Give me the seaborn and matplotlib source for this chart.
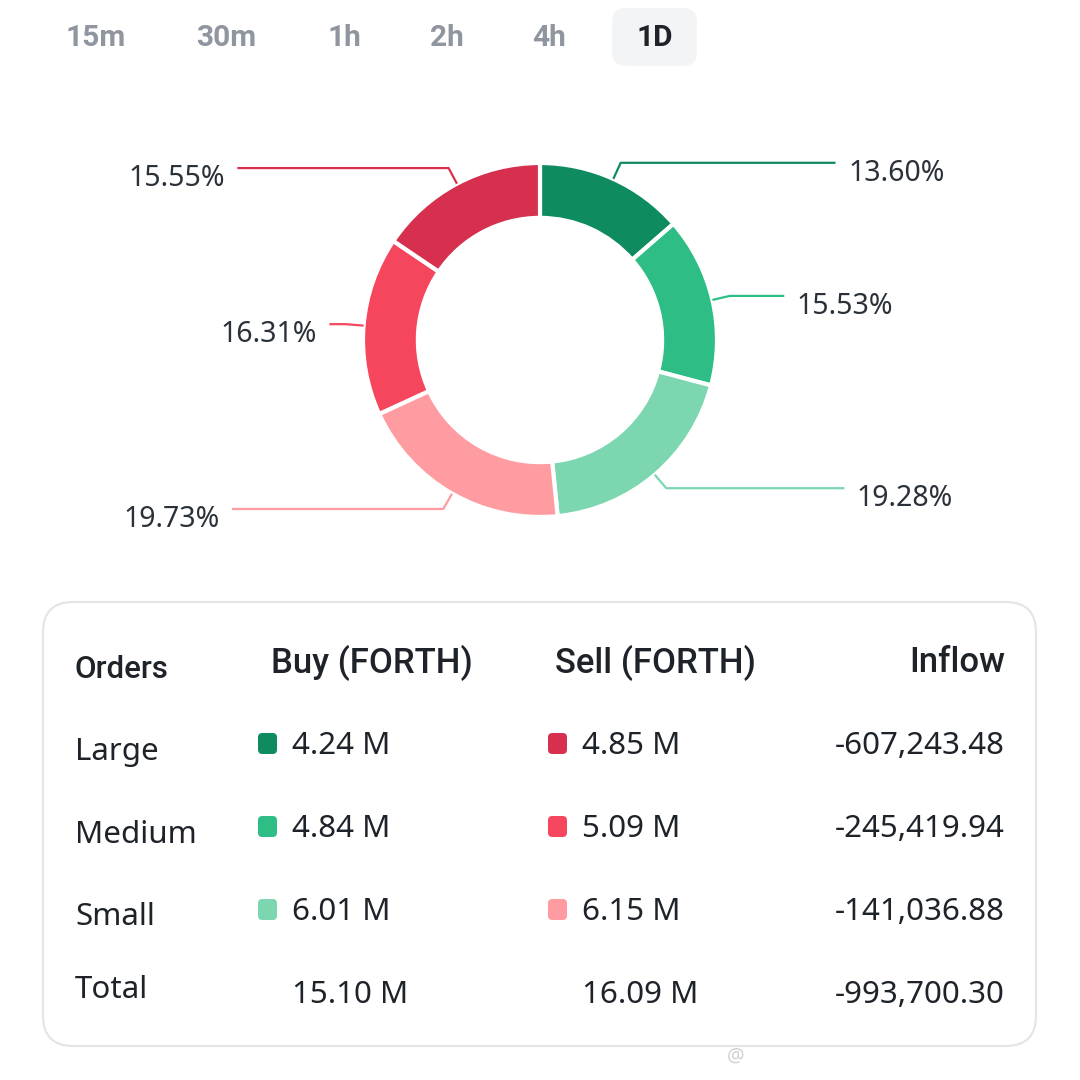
import numpy as np
import matplotlib.pyplot as plt
import seaborn as sns
from matplotlib.patches import FancyBboxPatch

# ---- data ----
timeframes = ["15m", "30m", "1h", "2h", "4h", "1D"]
active_tf = "1D"

order_sizes = ["Large", "Medium", "Small"]
buy_m = [4.24, 4.84, 6.01]          # millions FORTH
sell_m = [4.85, 5.09, 6.15]
inflow = [-607243.48, -245419.94, -141036.88]
total_buy_m = 15.10
total_sell_m = 16.09
total_inflow = -993700.30

# donut goes clockwise from 12 o'clock: buys large->small, then sells small->large
slice_names = ["Buy Large", "Buy Medium", "Buy Small", "Sell Small", "Sell Medium", "Sell Large"]
slice_pct = [13.60, 15.53, 19.28, 19.73, 16.31, 15.55]

buy_colors = ["#0f8c5f", "#2ebd85", "#7cd6b0"]
sell_colors = ["#d6304e", "#f6465d", "#ff9ca1"]
slice_colors = buy_colors + sell_colors[::-1]

# ---- setup ----
sns.set_theme(style="white")
plt.rcParams["font.family"] = ["Noto Sans", "DejaVu Sans"]
bold_font = ["Roboto", "DejaVu Sans"]
dark = "#1e2329"
grey = "#8f969f"

W = H = 1080
fig = plt.figure(figsize=(10.8, 10.8), dpi=100)


def fx(x):
    return x / W


def fy(y):
    return 1 - y / H


# timeframe tabs
tab_x = [96, 226, 344, 447, 549, 655]
for tf, x in zip(timeframes, tab_x):
    if tf == active_tf:
        fig.add_artist(FancyBboxPatch((fx(612), fy(66)), 85 / W, 58 / H,
                                      boxstyle="round,pad=0,rounding_size=0.013",
                                      transform=fig.transFigure, fc="#f3f4f5", ec="none"))
    fig.text(fx(x), fy(38), tf, ha="center", va="center", fontsize=21.5, fontweight="bold",
             family=bold_font, color=dark if tf == active_tf else grey)

# ---- donut ----
R = 177.0
cx, cy = 540, 340
ax = fig.add_axes([0, fy(550), 1, 420 / H])
wedges, _ = ax.pie(slice_pct, colors=slice_colors, startangle=90, counterclock=False,
                   wedgeprops=dict(width=0.31, edgecolor="white", linewidth=3))
ax.set_xlim(-cx / R, (W - cx) / R)
ax.set_ylim((cy - 550) / R, (cy - 130) / R)
ax.set_axis_off()

# leader lines end at these x positions (axes data units)
line_end = [1.67, 1.38, 1.72, -1.74, -1.19, -1.71]
for w, pct, col, xe in zip(wedges, slice_pct, slice_colors, line_end):
    a = np.deg2rad((w.theta1 + w.theta2) / 2)
    x0, y0 = np.cos(a), np.sin(a)
    x1, y1 = 1.1 * x0, 1.1 * y0
    ax.plot([x0, x1, xe], [y0, y1, y1], color=col, lw=1.6, solid_capstyle="butt")
    side = 1 if xe > 0 else -1
    ax.text(xe + side * 0.07, y1 - 0.06, f"{pct:.2f}%", ha="left" if side > 0 else "right",
            va="center", fontsize=20.5, color="#2b3139")

# ---- table card ----
fig.add_artist(FancyBboxPatch((fx(43), fy(1046)), 993 / W, 444 / H,
                              boxstyle="round,pad=0,rounding_size=0.028",
                              transform=fig.transFigure, fc="white", ec="#e3e5e8", lw=1.6))

fig.text(fx(75), fy(669), "Orders", ha="left", va="center", fontsize=22.5,
         fontweight="medium", family=bold_font, color=dark)
fig.text(fx(271), fy(663), "Buy (FORTH)", ha="left", va="center", fontsize=25,
         fontweight="medium", family=bold_font, color=dark)
fig.text(fx(555), fy(663), "Sell (FORTH)", ha="left", va="center", fontsize=25,
         fontweight="medium", family=bold_font, color=dark)
fig.text(fx(1005), fy(663), "Inflow", ha="right", va="center", fontsize=25,
         fontweight="medium", family=bold_font, color=dark)

label_y = [752, 835, 917]
value_y = [746, 829, 912]
body = 22.5


def swatch(x, y, col):
    fig.add_artist(FancyBboxPatch((fx(x), fy(y + 8)), 19 / W, 21 / H,
                                  boxstyle="round,pad=0,rounding_size=0.004",
                                  transform=fig.transFigure, fc=col, ec="none"))


for i, name in enumerate(order_sizes):
    fig.text(fx(75), fy(label_y[i]), name, ha="left", va="center", fontsize=body, color=dark)
    swatch(258, value_y[i], buy_colors[i])
    swatch(548, value_y[i], sell_colors[i])
    fig.text(fx(292), fy(value_y[i]), f"{buy_m[i]:.2f} M", ha="left", va="center",
             fontsize=body, color=dark)
    fig.text(fx(582), fy(value_y[i]), f"{sell_m[i]:.2f} M", ha="left", va="center",
             fontsize=body, color=dark)
    fig.text(fx(1005), fy(value_y[i]), f"{inflow[i]:,.2f}", ha="right", va="center",
             fontsize=body, color=dark)

fig.text(fx(75), fy(990), "Total", ha="left", va="center", fontsize=body, color=dark)
fig.text(fx(292), fy(995), f"{total_buy_m:.2f} M", ha="left", va="center", fontsize=body, color=dark)
fig.text(fx(582), fy(995), f"{total_sell_m:.2f} M", ha="left", va="center", fontsize=body, color=dark)
fig.text(fx(1005), fy(995), f"{total_inflow:,.2f}", ha="right", va="center", fontsize=body, color=dark)

# faint watermark
fig.text(fx(727), fy(1057), "@", ha="left", va="center", fontsize=14, color="#cfd2d6")

fig.savefig("out.png", dpi=100)
